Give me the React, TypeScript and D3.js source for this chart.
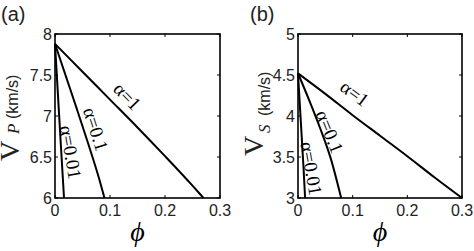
import React from "react";
import * as d3 from "d3";

// ---------- data ----------
const xTicks = [0, 0.1, 0.2, 0.3];
const xTickLabels = ["0", "0.1", "0.2", "0.3"];

const yTicksA = [6, 6.5, 7, 7.5, 8];
const yTickLabelsA = ["6", "6.5", "7", "7.5", "8"];
const yTicksB = [3, 3.5, 4, 4.5, 5];
const yTickLabelsB = ["3", "3.5", "4", "4.5", "5"];

// Panel (a): V_P vs porosity
const aAlpha1Phi = [0, 0.05, 0.1, 0.15, 0.2, 0.25, 0.27];
const aAlpha1V = [7.88, 7.54, 7.2, 6.86, 6.51, 6.15, 6.0];
const aAlpha01Phi = [0, 0.02, 0.04, 0.06, 0.08, 0.09];
const aAlpha01V = [7.88, 7.48, 7.08, 6.67, 6.24, 6.0];
const aAlpha001Phi = [0, 0.005, 0.01, 0.0164];
const aAlpha001V = [7.88, 7.3, 6.72, 6.0];

// Panel (b): V_S vs porosity
const bAlpha1Phi = [0, 0.05, 0.1, 0.15, 0.2, 0.25, 0.3];
const bAlpha1V = [4.52, 4.27, 4.01, 3.76, 3.51, 3.25, 3.0];
const bAlpha01Phi = [0, 0.02, 0.04, 0.06, 0.079];
const bAlpha01V = [4.52, 4.2, 3.86, 3.48, 3.0];
const bAlpha001Phi = [0, 0.005, 0.01, 0.013];
const bAlpha001V = [4.52, 3.95, 3.38, 3.0];

const curveLabels = ["α=1", "α=0.1", "α=0.01"];
// label anchor in data coords and rotation (deg)
const aLabelPhi = [0.1315, 0.074, 0.0285];
const aLabelV = [7.24, 6.84, 6.56];
const aLabelRot = [46, 72, 80];
const bLabelPhi = [0.1037, 0.058, 0.0243];
const bLabelV = [4.277, 3.81, 3.36];
const bLabelRot = [37, 68, 80];

const panelTitles = ["(a)", "(b)"];
const ySubs = ["P", "S"];

const SANS = "Liberation Sans, Arial, Helvetica, sans-serif";
const SERIF = "Liberation Serif, Times New Roman, serif";

type PanelProps = {
  left: number;
  right: number;
  top: number;
  bottom: number;
  yDomain: [number, number];
  yTicks: number[];
  yTickLabels: string[];
  curves: { phi: number[]; v: number[] }[];
  labelPhi: number[];
  labelV: number[];
  labelRot: number[];
  title: string;
  titleX: number;
  sub: string;
  yLab: { vX: number; vY: number; subX: number; subY: number; kmX: number; kmY: number };
};

function Panel(p: PanelProps) {
  const x = d3.scaleLinear().domain([0, 0.3]).range([p.left, p.right]);
  const y = d3.scaleLinear().domain(p.yDomain).range([p.bottom, p.top]);
  const line = d3
    .line<[number, number]>()
    .x((d) => x(d[0]))
    .y((d) => y(d[1]))
    .curve(d3.curveMonotoneX);
  const tl = 3;
  return (
    <g>
      {p.curves.map((c, i) => (
        <path
          key={i}
          d={line(c.phi.map((f, j) => [f, c.v[j]] as [number, number])) || ""}
          fill="none"
          stroke="#000"
          strokeWidth={2}
        />
      ))}
      <rect
        x={p.left}
        y={p.top}
        width={p.right - p.left}
        height={p.bottom - p.top}
        fill="none"
        stroke="#000"
        strokeWidth={1.6}
      />
      {xTicks.map((t, i) => (
        <g key={"x" + i}>
          <line x1={x(t)} x2={x(t)} y1={p.bottom} y2={p.bottom - tl} stroke="#000" strokeWidth={1} />
          <line x1={x(t)} x2={x(t)} y1={p.top} y2={p.top + tl} stroke="#000" strokeWidth={1} />
          <text
            x={x(t)}
            y={p.bottom + 18}
            textAnchor="middle"
            fontFamily={SANS}
            fontSize={16}
            fill="#222"
          >
            {xTickLabels[i]}
          </text>
        </g>
      ))}
      {p.yTicks.map((t, i) => (
        <g key={"y" + i}>
          <line x1={p.left} x2={p.left + tl} y1={y(t)} y2={y(t)} stroke="#000" strokeWidth={1} />
          <line x1={p.right} x2={p.right - tl} y1={y(t)} y2={y(t)} stroke="#000" strokeWidth={1} />
          <text
            x={p.left - 3}
            y={y(t) + 5.5}
            textAnchor="end"
            fontFamily={SANS}
            fontSize={16}
            fill="#222"
          >
            {p.yTickLabels[i]}
          </text>
        </g>
      ))}
      {curveLabels.map((l, i) => (
        <text
          key={"l" + i}
          transform={`translate(${x(p.labelPhi[i])},${y(p.labelV[i])}) rotate(${p.labelRot[i]})`}
          textAnchor="middle"
          dominantBaseline="central"
          fontFamily={SERIF}
          fontSize={19}
          fill="#000"
        >
          {l}
        </text>
      ))}
      <text
        x={(p.left + p.right) / 2}
        y={241}
        textAnchor="middle"
        fontFamily={SERIF}
        fontStyle="italic"
        fontSize={28}
        fill="#000"
      >
        ϕ
      </text>
      <text x={p.titleX} y={21} fontFamily={SANS} fontSize={20} fill="#222">
        {p.title}
      </text>
      <text
        transform={`translate(${p.yLab.vX},${p.yLab.vY}) rotate(-90)`}
        textAnchor="middle"
        fontFamily={SERIF}
        fontSize={28}
        fill="#222"
      >
        V
      </text>
      <text
        transform={`translate(${p.yLab.subX},${p.yLab.subY}) rotate(-90)`}
        textAnchor="start"
        fontFamily={SERIF}
        fontStyle="italic"
        fontSize={17}
        fill="#222"
      >
        {p.sub}
      </text>
      <text
        transform={`translate(${p.yLab.kmX},${p.yLab.kmY}) rotate(-90)`}
        textAnchor="start"
        fontFamily={SANS}
        fontSize={16}
        fill="#222"
      >
        (km/s)
      </text>
    </g>
  );
}

export default function App() {
  return (
    <svg
      width={474}
      height={251}
      style={{ position: "absolute", left: 0, top: 0, background: "#fff" }}
    >
      <rect width={474} height={251} fill="#fff" />
      <Panel
        left={55}
        right={220}
        top={34}
        bottom={198}
        yDomain={[6, 8]}
        yTicks={yTicksA}
        yTickLabels={yTickLabelsA}
        curves={[
          { phi: aAlpha1Phi, v: aAlpha1V },
          { phi: aAlpha01Phi, v: aAlpha01V },
          { phi: aAlpha001Phi, v: aAlpha001V },
        ]}
        labelPhi={aLabelPhi}
        labelV={aLabelV}
        labelRot={aLabelRot}
        title={panelTitles[0]}
        titleX={1}
        sub={ySubs[0]}
        yLab={{ vX: 19, vY: 151, subX: 19, subY: 134, kmX: 18, kmY: 119 }}
      />
      <Panel
        left={298}
        right={462}
        top={34}
        bottom={198}
        yDomain={[3, 5]}
        yTicks={yTicksB}
        yTickLabels={yTickLabelsB}
        curves={[
          { phi: bAlpha1Phi, v: bAlpha1V },
          { phi: bAlpha01Phi, v: bAlpha01V },
          { phi: bAlpha001Phi, v: bAlpha001V },
        ]}
        labelPhi={bLabelPhi}
        labelV={bLabelV}
        labelRot={bLabelRot}
        title={panelTitles[1]}
        titleX={250}
        sub={ySubs[1]}
        yLab={{ vX: 263, vY: 146, subX: 270, subY: 133, kmX: 270, kmY: 116 }}
      />
    </svg>
  );
}
